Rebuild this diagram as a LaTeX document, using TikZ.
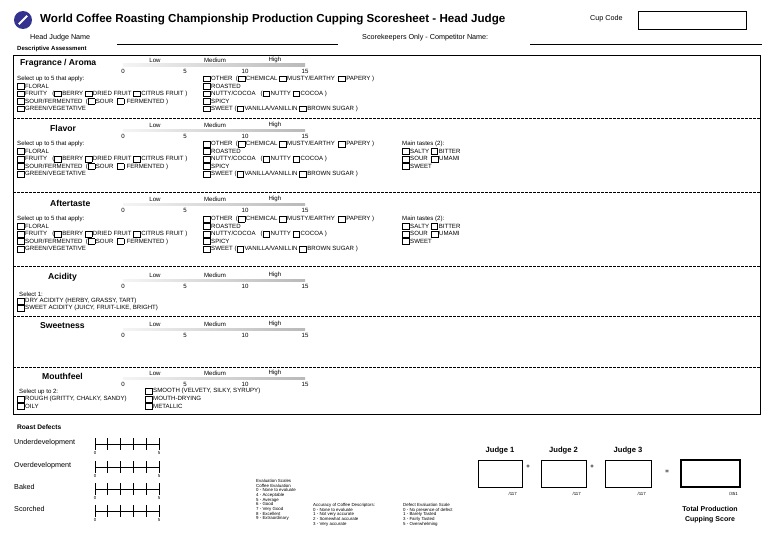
\documentclass[tikz,border=0pt]{standalone}
\usepackage{fontspec}
\setmainfont{Liberation Sans}
\newcommand\ck{\raisebox{-0.6pt}{\setlength\fboxrule{0.7pt}\setlength\fboxsep{0pt}\fbox{\rule{0pt}{5pt}\hspace{6pt}}}\hspace{0.6pt}}
\tikzset{
 sm/.style={font=\fontsize{6.1}{6.5}\selectfont,inner sep=0pt,anchor=west},
 tiny/.style={font=\fontsize{4.4}{4.7}\selectfont,inner sep=0pt,anchor=west,align=left},
 hd/.style={font=\fontsize{8.6}{9}\selectfont\bfseries,inner sep=0pt,anchor=west},
 lab/.style={font=\fontsize{7.2}{8}\selectfont,inner sep=0pt,anchor=west},
 sep/.style={line width=0.8pt,dash pattern=on 2.5pt off 1.5pt},
}
\newcommand\scl[1]{%
 \node[sm,anchor=center] at (155,#1) {Low};
 \node[sm,anchor=center] at (215,#1) {Medium};
 \node[sm,anchor=center] at (275,#1) {High};
 \shade[left color=gray!8,right color=gray!55] (123,{#1+4}) rectangle (305,{#1+6.5});
 \foreach \v/\xx in {0/123,5/185,10/245,15/305}{\node[sm,anchor=center] at (\xx,{#1+11.5}) {\v};}
}
\newcommand\desc[1]{%
 \node[sm] at (17,#1) {Select up to 5 that apply:};
 \node[sm] at (17,{#1+7.5}) {\ck FLORAL};
 \node[sm] at (17,{#1+15}) {\ck FRUITY \ \ (\ck BERRY \ck DRIED FRUIT \ck CITRUS FRUIT )};
 \node[sm] at (17,{#1+22.5}) {\ck SOUR/FERMENTED \ (\ck SOUR \ \ck\ FERMENTED )};
 \node[sm] at (17,{#1+30}) {\ck GREEN/VEGETATIVE};
 \node[sm] at (203,{#1}) {\ck OTHER \ (\ck CHEMICAL \ck MUSTY/EARTHY \ \ck PAPERY )};
 \node[sm] at (203,{#1+7.5}) {\ck ROASTED};
 \node[sm] at (203,{#1+15}) {\ck NUTTY/COCOA \ \ (\ck NUTTY \ck COCOA )};
 \node[sm] at (203,{#1+22.5}) {\ck SPICY};
 \node[sm] at (203,{#1+30}) {\ck SWEET (\ck VANILLA/VANILLIN \ck BROWN SUGAR )};
}
\newcommand\taste[1]{%
 \node[sm] at (402,#1) {Main tastes (2):};
 \node[sm] at (402,{#1+7.5}) {\ck SALTY \ck BITTER};
 \node[sm] at (402,{#1+15}) {\ck SOUR \ \ck UMAMI};
 \node[sm] at (402,{#1+22.5}) {\ck SWEET};
}
\newcommand\defscale[1]{%
 \draw[line width=0.8pt] (95,#1) -- (159,#1);
 \foreach \i in {0,...,5}{\draw[line width=0.8pt] ({95+12.8*\i},{#1-6}) -- ({95+12.8*\i},{#1+6});}
 \node[tiny,anchor=center] at (95,{#1+9}) {0};
 \node[tiny,anchor=center] at (159,{#1+9}) {5};
}
\begin{document}
\begin{tikzpicture}[x=1pt,y=-1pt]
\useasboundingbox (0,0) rectangle (768,543);
% header
\fill[blue!45!black!80] (23,20) circle (9);
\draw[white,line width=2pt,rotate around={45:(23,20)}] (17,20) -- (29,20);
\node[font=\fontsize{11.6}{13}\selectfont\bfseries,inner sep=0,anchor=west] (title) at (40,20) {World Coffee Roasting Championship Production Cupping Scoresheet - Head Judge};
\node[lab] at (590,19) {Cup Code};
\draw[line width=0.7pt] (638,11) rectangle (746,29);
\node[lab] at (30,38) {Head Judge Name};
\draw[line width=0.7pt] (117,44) -- (338,44);
\node[lab] at (362,38) {Scorekeepers Only - Competitor Name:};
\draw[line width=0.7pt] (530,44) -- (762,44);
\node[sm,font=\fontsize{6}{7}\selectfont\bfseries] at (17,49) {Descriptive Assessment};
% main box
\draw[line width=0.8pt] (13,55) rectangle (760,414);
\foreach \yy in {118,192,266,316,367}{\draw[sep] (13,\yy) -- (760,\yy);}
% sections
\node[hd] at (20,63) {Fragrance / Aroma};
\scl{60} \desc{79}
\node[hd] at (50,128) {Flavor};
\scl{125} \desc{144} \taste{144}
\node[hd] at (50,203) {Aftertaste};
\scl{199} \desc{219} \taste{219}
\node[hd] at (48,277) {Acidity};
\scl{275}
\node[sm] at (19,294) {Select 1:};
\node[sm] at (17,301) {\ck DRY ACIDITY (HERBY, GRASSY, TART)};
\node[sm] at (17,308) {\ck SWEET ACIDITY (JUICY, FRUIT-LIKE, BRIGHT)};
\node[hd] at (40,326) {Sweetness};
\scl{324}
\node[hd] at (42,376) {Mouthfeel};
\scl{373}
\node[sm] at (19,392) {Select up to 2:};
\node[sm] at (17,399) {\ck ROUGH (GRITTY, CHALKY, SANDY)};
\node[sm] at (17,406.5) {\ck OILY};
\node[sm] at (145,391) {\ck SMOOTH (VELVETY, SILKY, SYRUPY)};
\node[sm] at (145,399) {\ck MOUTH-DRYING};
\node[sm] at (145,406.5) {\ck METALLIC};
% roast defects
\node[sm,font=\fontsize{6.6}{7}\selectfont\bfseries] at (17,427) {Roast Defects};
\node[lab] at (14,443) {Underdevelopment}; \defscale{444}
\node[lab] at (14,466) {Overdevelopment}; \defscale{467}
\node[lab] at (14,487) {Baked}; \defscale{489}
\node[lab] at (14,509) {Scorched}; \defscale{511}
% scales legend
\node[tiny,anchor=north west] at (256,479) {Evaluation Scales\\Coffee Evaluation\\0 - None to evaluate\\4 - Acceptable\\5 - Average\\6 - Good\\7 - Very Good\\8 - Excellent\\9 - Extraordinary};
\node[tiny,anchor=north west] at (313,503) {Accuracy of Coffee Descriptors:\\0 - None to evaluate\\1 - Not very accurate\\2 - Somewhat accurate\\3 - Very accurate};
\node[tiny,anchor=north west] at (403,503) {Defect Evaluation Scale\\0 - No presence of defect\\1 - Barely Tasted\\3 - Fairly Tasted\\5 - Overwhelming};
% judges
\foreach \n/\xa/\xb in {1/478/522,2/541/586,3/605/651}{
 \draw[line width=0.7pt] (\xa,460) rectangle (\xb,487);
 \node[font=\fontsize{7.6}{8}\selectfont\bfseries,inner sep=0] at ({(\xa+\xb)/2},451) {Judge \n};
 \node[tiny,anchor=east] at ({\xb-5},494) {/117};
}
\node[sm,anchor=center,font=\fontsize{6}{6}\selectfont\bfseries] at (528,467) {+};
\node[sm,anchor=center,font=\fontsize{6}{6}\selectfont\bfseries] at (592,467) {+};
\node[sm,anchor=center,font=\fontsize{6}{6}\selectfont\bfseries] at (667,472) {=};
\draw[line width=1.6pt] (681,460) rectangle (740,487);
\node[tiny,anchor=east] at (738,494) {/351};
\node[font=\fontsize{7}{10}\selectfont\bfseries,inner sep=0,align=center] at (710,515) {Total Production\\Cupping Score};
\end{tikzpicture}
\end{document}
